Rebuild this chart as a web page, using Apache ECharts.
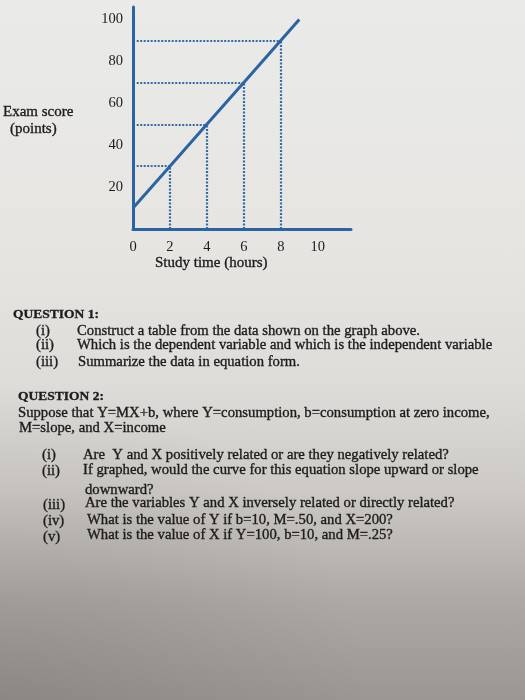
<!DOCTYPE html>
<html>
<head>
<meta charset="utf-8">
<script src="https://cdn.jsdelivr.net/npm/echarts@6/dist/echarts.min.js"></script>
<style>
  html, body { margin: 0; padding: 0; }
  body {
    width: 525px; height: 700px; overflow: hidden;
    background:
      radial-gradient(ellipse 70% 45% at 0% 100%, rgba(60,55,55,0.16), rgba(60,55,55,0)),
      linear-gradient(to bottom, #eaeae8 0%, #e6e5e2 35%, #dedcd8 55%, #cdcac6 70%, #aca8a4 86%, #9a9693 100%);
  }
  #chart { width: 525px; height: 700px; }
</style>
</head>
<body>
<div id="chart"></div>
<script>
// data
var studyHours = [0, 2, 4, 6, 8, 9];
var examScore = [10, 30, 50, 70, 90, 100];
// points with dotted guide lines
var guideHours = [2, 4, 6, 8];
var guideScore = [30, 50, 70, 90];
var xTicks = [0, 2, 4, 6, 8, 10];
var yTicks = [20, 40, 60, 80, 100];

var blue = '#2a64a3';
var ink = '#1d1b1b';
var serif = '"Liberation Serif", "DejaVu Serif", serif';

// text lines of the worksheet: [x, y, text, bold]
var lines = [
    [13, 315, 'QUESTION 1:', true],
    [36, 331, '(i)', false],
    [77, 331, 'Construct a table from the data shown on the graph above.', false],
    [36, 345, '(ii)', false],
    [77, 345, 'Which is the dependent variable and which is the independent variable', false],
    [36, 362, '(iii)', false],
    [78, 362, 'Summarize the data in equation form.', false],
    [18, 397, 'QUESTION 2:', true],
    [18, 413, 'Suppose that Y=MX+b, where Y=consumption, b=consumption at zero income,', false],
    [19, 428, 'M=slope, and X=income', false],
    [42, 455, '(i)', false],
    [83, 455, 'Are  Y and X positively related or are they negatively related?', false],
    [42, 471, '(ii)', false],
    [83, 470, 'If graphed, would the curve for this equation slope upward or slope', false],
    [85, 490, 'downward?', false],
    [43, 505, '(iii)', false],
    [85, 503, 'Are the variables Y and X inversely related or directly related?', false],
    [43, 521, '(iv)', false],
    [87, 520, 'What is the value of Y if b=10, M=.50, and X=200?', false],
    [43, 537, '(v)', false],
    [87, 535, 'What is the value of X if Y=100, b=10, and M=.25?', false]
];

var myChart = echarts.init(document.getElementById('chart'));

var lineData = studyHours.map(function (h, i) { return [h, examScore[i]]; });

var guides = [];
guideHours.forEach(function (h, i) {
    guides.push([{ coord: [h, 0] }, { coord: [h, guideScore[i]] }]);
    guides.push([{ coord: [0.2, guideScore[i]] }, { coord: [h, guideScore[i]] }]);
});

function textStyle(text, font) {
    return { text: text, font: font, fill: ink, stroke: ink, lineWidth: 0.35, textVerticalAlign: 'middle' };
}

var graphics = [
    { type: 'text', x: 3, y: 112, style: textStyle('Exam score', '15px ' + serif) },
    { type: 'text', x: 10, y: 129, style: textStyle('(points)', '15px ' + serif) },
    { type: 'text', x: 155, y: 263, style: textStyle('Study time (hours)', '15px ' + serif) }
];
lines.forEach(function (l) {
    graphics.push({
        type: 'text', x: l[0], y: l[1],
        style: textStyle(l[2], l[3] ? 'bold 13.5px ' + serif : '14.7px ' + serif)
    });
});

var option = {
    animation: false,
    grid: { left: 133, top: 7, width: 218, height: 222 },
    xAxis: {
        type: 'value',
        min: 0,
        max: 11.8,
        interval: 2,
        axisLine: { lineStyle: { color: blue, width: 3 } },
        axisTick: { show: false },
        splitLine: { show: false },
        axisLabel: {
            color: ink,
            fontSize: 14.5,
            fontFamily: serif,
            margin: 11,
            formatter: function (v) { return xTicks.indexOf(v) >= 0 ? String(v) : ''; }
        }
    },
    yAxis: {
        type: 'value',
        min: 0,
        max: 106,
        interval: 20,
        axisLine: { show: true, lineStyle: { color: blue, width: 3 } },
        axisTick: { show: false },
        splitLine: { show: false },
        axisLabel: {
            color: ink,
            fontSize: 14.5,
            fontFamily: serif,
            margin: 10,
            formatter: function (v) { return yTicks.indexOf(v) >= 0 ? String(v) : ''; }
        }
    },
    series: [{
        type: 'line',
        data: lineData,
        showSymbol: false,
        lineStyle: { color: blue, width: 3 },
        markLine: {
            silent: true,
            symbol: ['none', 'none'],
            label: { show: false },
            lineStyle: { color: blue, width: 2.2, type: [2, 1.5], opacity: 0.95 },
            data: guides
        }
    }],
    graphic: graphics
};

myChart.setOption(option);
</script>
</body>
</html>
